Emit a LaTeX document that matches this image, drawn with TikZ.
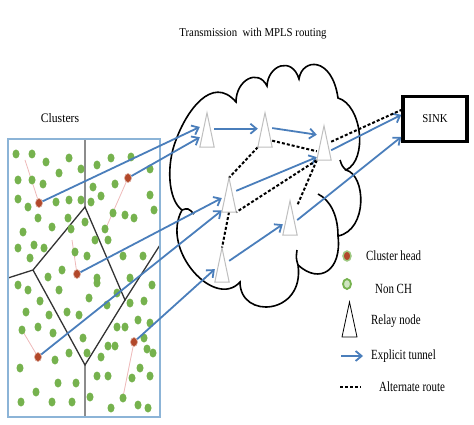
\documentclass[tikz,border=0pt]{standalone}
\usepackage{fontspec}
\setmainfont{Liberation Serif}[FakeStretch=0.9]
\newfontfamily\narrowserif{Liberation Serif}[FakeStretch=0.78]
\usetikzlibrary{arrows.meta,shapes.geometric}

\definecolor{tunnelblue}{RGB}{74,126,187}
\definecolor{boxblue}{RGB}{140,180,215}
\definecolor{dotgreen}{RGB}{118,178,78}
\definecolor{headred}{RGB}{178,72,42}
\definecolor{linkpink}{RGB}{238,185,185}

\tikzset{
  nonch/.style={ellipse,inner sep=0,minimum width=7,minimum height=9,fill=dotgreen},
  chead/.style={ellipse,inner sep=0,minimum width=7,minimum height=9,fill=headred,draw=headred!45!white,line width=0.6},
  relay/.style={inner sep=0,minimum width=14,minimum height=34},
  relaytri/.style={draw=gray!50,fill=white,line width=1},
  tunnel/.style={draw=tunnelblue,line width=1.8,-{Straight Barb[length=6pt,width=10pt]}},
  altroute/.style={draw=black,line width=2,dash pattern=on 3pt off 2pt},
  member/.style={draw=linkpink,line width=0.8},
  cellline/.style={draw=black!80,line width=1.3},
  cellgray/.style={draw=black!45,line width=2},
  legtext/.style={anchor=west,inner sep=0,font=\narrowserif\fontsize{14}{16}\selectfont},
}

\begin{document}
\begin{tikzpicture}[x=1pt,y=-1pt]
\useasboundingbox (0,0) rectangle (474,425);

% titles
\node[font=\fontsize{12}{14}\selectfont] (title) at (253,34) {Transmission\ \ with MPLS routing};
\node[font=\fontsize{13}{15}\selectfont] (clusters) at (60,118) {Clusters};

% cloud
\draw[line width=1.6] (182,210) .. controls (168,200) and (166,165) .. (176,140)
  .. controls (186,112) and (212,74) .. (236,102)
  .. controls (236,80) and (258,68) .. (267,86)
  .. controls (268,65) and (292,56) .. (299,79)
  .. controls (302,58) and (332,56) .. (338,98)
  .. controls (362,105) and (368,160) .. (346,170)
  .. controls (366,175) and (368,230) .. (338,236)
  .. controls (342,270) and (320,285) .. (298,265)
  .. controls (305,315) and (240,320) .. (240,282)
  .. controls (215,310) and (160,250) .. (182,210);
\draw[line width=1.6] (338,236) .. controls (338,215) and (330,200) .. (318,194);
\draw[line width=1.6] (298,265) .. controls (296,258) .. (297,250);
\draw[line width=1.6] (182,210) .. controls (188,208) .. (194,214);
\draw[line width=1.6] (346,170) .. controls (342,166) .. (340,160);

% clusters
\coordinate (va) at (85,140);
\coordinate (vb) at (85,207);
\coordinate (vc) at (33,270);
\coordinate (vd) at (8,278);
\coordinate (ve) at (125,300);
\coordinate (vf) at (160,245);
\coordinate (vg) at (85,365);
\coordinate (vh) at (85,418);
\draw[cellgray] (va) -- (vb);
\draw[cellgray] (vg) -- (vh);
\draw[cellline] (vd) -- (vc) -- (vb) -- (ve) -- (vf);
\draw[cellline] (vc) -- (vg) -- (ve);

\coordinate (m1) at (25,160);
\coordinate (m2) at (106,228);
\coordinate (m3) at (72,240);
\coordinate (m4) at (22,330);
\coordinate (m5) at (123,397);

\node[chead] (ch1) at (39,203) {};
\node[chead] (ch2) at (128,178) {};
\node[chead] (ch3) at (77,274) {};
\node[chead] (ch4) at (38,357) {};
\node[chead] (ch5) at (134,342) {};

\draw[member] (ch1) -- (m1);
\draw[member] (ch2) -- (m2);
\draw[member] (ch3) -- (m3);
\draw[member] (ch4) -- (m4);
\draw[member] (ch5) -- (m5);

\foreach \x/\y in {16/154,32/154,46/162,69/158,59/173,81/169,97/165,111/158,131/157,150/169,
  18/180,32/180,43/184,115/184,93/187,101/196,150/195,
  18/199,28/207,56/202,69/200,81/200,91/202,125/215,134/218,154/210,113/213,
  38/218,52/227,68/218,85/222,105/229,23/232,18/248,34/245,44/248,71/229,95/240,108/240,
  75/252,87/256,62/270,30/258,123/256,143/256,48/277,97/278,
  18/285,28/290,59/290,97/283,89/298,117/293,130/278,152/285,40/301,26/312,49/315,67/312,79/315,130/303,144/301,107/305,
  22/330,38/327,53/333,83/338,117/327,125/327,138/320,150/323,144/338,
  69/353,87/353,108/346,115/346,147/349,153/353,55/360,101/357,20/368,
  76/383,58/383,97/376,108/376,140/368,132/378,150/376,
  36/392,21/402,52/402,72/402,90/397,111/408,123/398,138/405,148/408}
  \node[nonch] at (\x,\y) {};

\draw[boxblue,line width=1.5] (8,139) rectangle (160,417);

% relays and sink
\node[relay] (r1) at (207,130) {};
\node[relay] (r2) at (265,130) {};
\node[relay] (r3) at (324,143) {};
\node[relay] (r4) at (229,195) {};
\node[relay] (r5) at (290,218) {};
\node[relay] (r6) at (222,265) {};
\node[draw,line width=3.5,minimum width=64,minimum height=45,font=\fontsize{12}{14}\selectfont] (sink) at (435,119) {SINK};

% explicit tunnels
\draw[tunnel] (ch1) -- (r1.157);
\draw[tunnel] (ch2) -- (r1.225);
\draw[tunnel] (r1.10) -- (r2.170);
\draw[tunnel] (r2.15) -- (r3.131);
\draw[tunnel] (ch3) -- (r4.203);
\draw[tunnel] (ch4) -- (r4.245);
\draw[tunnel] (r4.30) -- (r3.243);
\draw[tunnel] (r3.315) -- (sink.173);
\draw[tunnel] (ch5) -- (r6.210);
\draw[tunnel] (r6.30) -- (r5.221);
\draw[tunnel] (r5.344) -- (sink.208);

% alternate routes
\draw[altroute] (r2.304) -- (r3.229);
\draw[altroute] (r3.10) -- (sink.165);
\draw[altroute] (r3.south west) -- (r4.south east);
\draw[altroute] (r3.south west) -- (r5.60);
\draw[altroute] (r2.south west) -- (r4.north);
\draw[altroute] (r4.south) -- (r6.north);

\foreach \r in {r1,r2,r3,r4,r5,r6}
  \draw[relaytri] (\r.south west) -- (\r.north) -- (\r.south east) -- cycle;

% legend
\node[chead,minimum width=8,minimum height=10,line width=1.5,draw=dotgreen!70!white] (lgch) at (347,256) {};
\node[nonch,minimum width=8,minimum height=10,fill=dotgreen!35!white,draw=dotgreen,line width=1.8] (lgnon) at (347,284) {};
\draw[line width=0.8] (342,337) -- (349.5,302) -- (357,337) -- cycle;
\coordinate (lgta) at (341,356);
\coordinate (lgtb) at (363,356);
\draw[tunnel] (lgta) -- (lgtb);
\coordinate (lgaa) at (340,387);
\coordinate (lgab) at (361,387);
\draw[altroute] (lgaa) -- (lgab);
\node[legtext] at (366,256) {Cluster head};
\node[legtext] at (375,289) {Non CH};
\node[legtext] at (371,321) {Relay node};
\node[legtext] at (371,356) {Explicit tunnel};
\node[legtext] at (379,387) {Alternate route};

\end{tikzpicture}
\end{document}
